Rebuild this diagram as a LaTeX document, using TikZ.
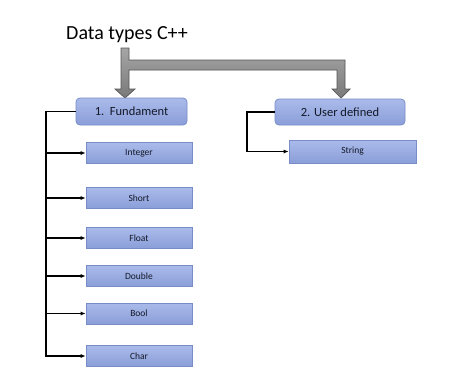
\documentclass[tikz,border=0pt]{standalone}
\usepackage{fontspec}
\setmainfont{Carlito}
\usetikzlibrary{arrows.meta}
\definecolor{boxtop}{RGB}{170,186,234}
\definecolor{boxbot}{RGB}{138,158,216}
\definecolor{boxline}{RGB}{120,140,200}
\definecolor{grayfill}{RGB}{135,135,135}
\definecolor{grayline}{RGB}{85,85,85}
\definecolor{txt}{RGB}{20,25,40}
\tikzset{
  mainbox/.style={draw=boxline, line width=0.8pt, rounded corners=4pt, top color=boxtop, bottom color=boxbot, text=txt, font=\fontsize{12.5}{14}\selectfont, inner sep=0pt},
  subbox/.style={draw=boxline, line width=0.6pt, top color=boxtop, bottom color=boxbot, text=txt, font=\fontsize{9.5}{11}\selectfont, inner sep=0pt, minimum width=106pt, minimum height=21pt},
  link/.style={line width=1.1pt, black},
  arr/.style={link, -{Latex[length=5pt,width=4pt]}},
}
\begin{document}
\begin{tikzpicture}[x=1pt,y=-1pt]
\useasboundingbox[fill=white] (0,0) rectangle (474,389);
\node[font=\fontsize{20}{24}\selectfont, anchor=center] (title) at (127,35) {Data types C++};
% gray branching arrow
\draw[grayline, line width=0.7pt, left color=grayfill!80!black, right color=grayfill!70!white, shading angle=0, top color=grayfill!75!white, bottom color=grayfill!90!black]
  (121,48) -- (129,48) -- (129,60) -- (345,60) -- (345,89) -- (350,89) -- (341,98) -- (332,89) -- (337,89)
  -- (337,70) -- (129,70) -- (129,89) -- (135,89) -- (125,98) -- (115,89) -- (121,89) -- cycle;
\node[mainbox, minimum width=111pt, minimum height=27pt] (fund) at (131.5,111.5) {1.\ \ Fundament};
\node[mainbox, minimum width=130pt, minimum height=26pt] (user) at (340,112) {2. User defined};
\node[subbox] (integer) at (139,153) {Integer};
\node[subbox] (short) at (139,198) {Short};
\node[subbox] (float) at (139,238) {Float};
\node[subbox] (double) at (139,276) {Double};
\node[subbox] (bool) at (139,313.5) {Bool};
\node[subbox] (char) at (139,356) {Char};
\node[subbox, minimum width=127pt, minimum height=23pt] (string) at (352.5,151.5) {String};
\coordinate (lb) at (46,111.5);
\draw[arr] (fund.west) -- (lb) |- (char.west);
\foreach \n in {integer,short,float,double,bool}
  \draw[arr] (lb |- \n.west) -- (\n.west);
\coordinate (rb) at (247,112);
\draw[arr] (user.west) -- (rb) |- (string.west);
\end{tikzpicture}
\end{document}
